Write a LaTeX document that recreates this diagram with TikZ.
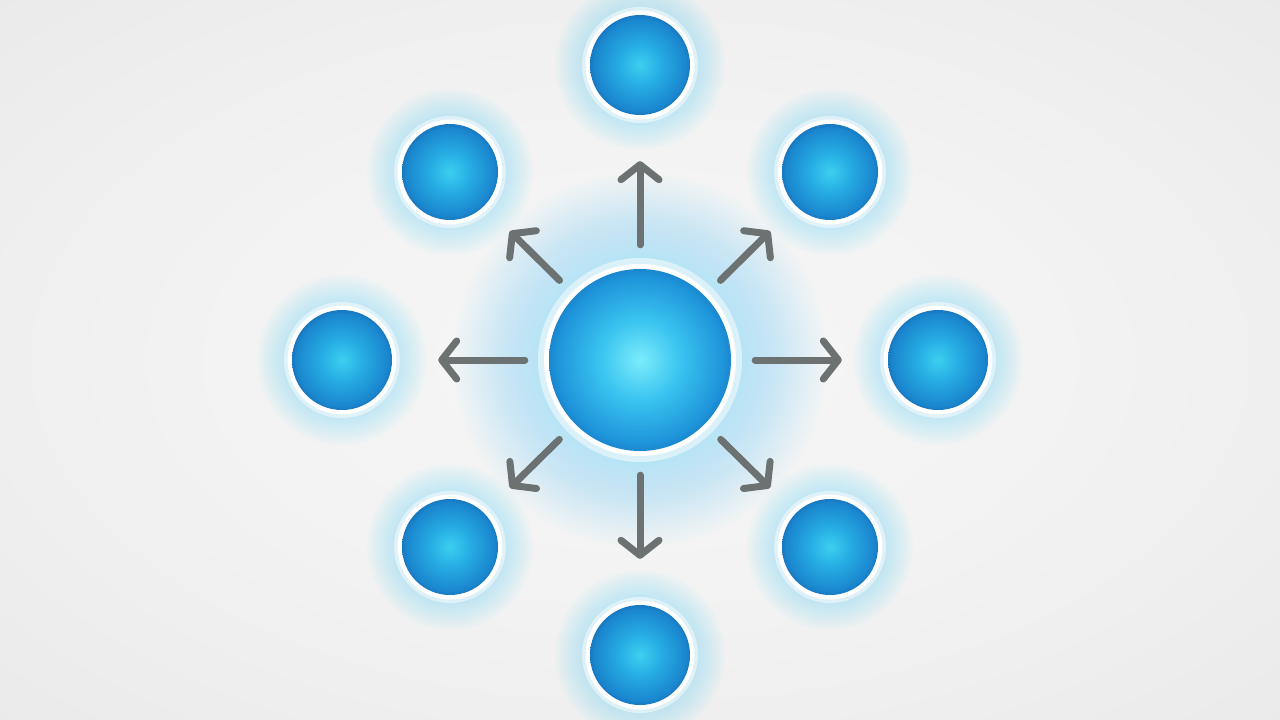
\documentclass[tikz,border=0pt]{standalone}
\usetikzlibrary{arrows.meta}
\definecolor{arrowgray}{HTML}{6C7272}
\definecolor{glowcol}{HTML}{86E4F6}
\definecolor{sbin}{HTML}{3CD0F0}
\definecolor{sbmid}{HTML}{27AEE4}
\definecolor{sbout}{HTML}{1A86CE}
\definecolor{sbrim}{HTML}{1878C0}
\definecolor{bbin}{HTML}{7CECFC}
\definecolor{bbmid}{HTML}{3AC4F0}
\definecolor{bbout}{HTML}{1E94DA}
\definecolor{bbrim}{HTML}{1A86CE}
\definecolor{bgin}{HTML}{F6F6F6}
\definecolor{bgmid}{HTML}{F3F3F3}
\definecolor{bgout}{HTML}{E9EAE9}
\pgfdeclareradialshading{smallball}{\pgfpoint{0bp}{0bp}}{color(0bp)=(sbin); color(10bp)=(sbmid); color(23bp)=(sbout); color(25bp)=(sbrim); color(50bp)=(sbrim)}
\pgfdeclareradialshading{bigball}{\pgfpoint{0bp}{0bp}}{color(0bp)=(bbin); color(11bp)=(bbmid); color(23bp)=(bbout); color(25bp)=(bbrim); color(50bp)=(bbrim)}
\pgfdeclareradialshading{backdrop}{\pgfpoint{0bp}{0bp}}{color(0bp)=(bgin); color(16bp)=(bgmid); color(36bp)=(bgout); color(50bp)=(bgout)}
\tikzset{
  smallnode/.style={circle, inner sep=0pt, minimum size=100pt, shade, shading=smallball, draw=none},
  bignode/.style={circle, inner sep=0pt, minimum size=182pt, shade, shading=bigball, draw=none},
  arr/.style={draw=arrowgray, line width=7pt, line cap=round, line join=round,
    -{Straight Barb[length=15pt,width=38pt,round]}},
  card/.style={arr, shorten <=24pt, shorten >=46pt},
  diag/.style={arr, shorten <=22pt, shorten >=36pt},
  glowlayer/.style={fill=glowcol, fill opacity=0.05, draw=none}
}
\begin{document}
\begin{tikzpicture}[x=1pt,y=-1pt]
\shade[shading=backdrop] (0,0) rectangle (1280,720);
\useasboundingbox (0,0) rectangle (1280,720);
% positions
\coordinate (pC) at (640,360);
\coordinate (pT) at (640,65);
\coordinate (pB) at (640,655);
\coordinate (pL) at (342,360);
\coordinate (pR) at (938,360);
\coordinate (pTL) at (450,172);
\coordinate (pTR) at (830,172);
\coordinate (pBL) at (450,547);
\coordinate (pBR) at (830,547);
% center glow
\foreach \k in {1,...,26}
  \fill[glowlayer, fill opacity=0.026] (pC) circle ({93+3.6*\k});
% outer glows
\foreach \p/\r in {pT/50,pB/50,pL/50,pR/50,pTL/48,pTR/48,pBL/48,pBR/48}{
  \foreach \k in {1,...,16}
    \fill[glowlayer, fill opacity=0.04] (\p) circle ({\r+2.2*\k});
  \fill[white, fill opacity=0.5] (\p) circle ({\r+8});
  \fill[white] (\p) circle ({\r+4.5});
}
\fill[white, fill opacity=0.5] (pC) circle (102);
\fill[white] (pC) circle (96);
% balls
\node[bignode] (c) at (pC) {};
\node[smallnode] (t) at (pT) {};
\node[smallnode] (b) at (pB) {};
\node[smallnode] (l) at (pL) {};
\node[smallnode] (r) at (pR) {};
\node[smallnode, minimum size=96pt] (tl) at (pTL) {};
\node[smallnode, minimum size=96pt] (tr) at (pTR) {};
\node[smallnode, minimum size=96pt] (bl) at (pBL) {};
\node[smallnode, minimum size=96pt] (br) at (pBR) {};
% arrows
\draw[card] (c) -- (t);
\draw[card] (c) -- (b);
\draw[card] (c) -- (l);
\draw[card] (c) -- (r);
\draw[diag] (c) -- (tl);
\draw[diag] (c) -- (tr);
\draw[diag] (c) -- (bl);
\draw[diag] (c) -- (br);
\end{tikzpicture}
\end{document}
